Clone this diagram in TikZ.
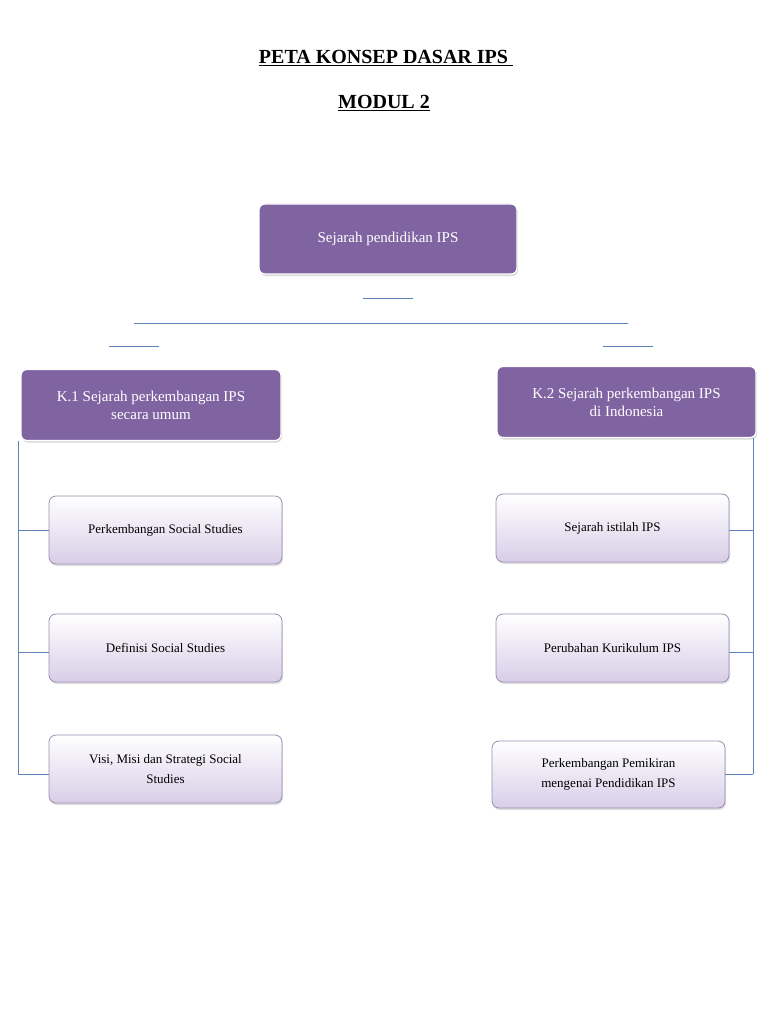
\documentclass[tikz,border=0pt]{standalone}
\usepackage{fontspec}
\setmainfont{Liberation Serif}
\usetikzlibrary{shadows}
\definecolor{pur}{HTML}{8064A2}
\definecolor{lav}{HTML}{D8CEE8}
\definecolor{bord}{HTML}{9A8DB0}
\definecolor{ln}{HTML}{5B84B8}
\begin{document}
\begin{tikzpicture}[x=1pt,y=-1pt,
  main/.style={draw=white,line width=1.2pt,fill=pur,rounded corners=6pt,text=white,align=center,font=\fontsize{15}{18}\selectfont,drop shadow={shadow xshift=1pt,shadow yshift=-2pt,fill=gray!60},inner sep=0pt},
  sub/.style={draw=bord,line width=0.8pt,top color=white,bottom color=lav,rounded corners=7pt,align=center,font=\fontsize{13}{20}\selectfont,drop shadow={shadow xshift=1pt,shadow yshift=-2pt,fill=gray!50},inner sep=0pt},
  con/.style={draw=ln,line width=0.7pt}]
\useasboundingbox (0,0) rectangle (768,1024);
\node[font=\bfseries\fontsize{20}{24}\selectfont] (t1) at (386,58) {\underline{PETA KONSEP DASAR IPS\ }};
\node[font=\bfseries\fontsize{20}{24}\selectfont] (t2) at (384,103) {\underline{MODUL 2}};
\node[main,minimum width=258pt,minimum height=70pt] (top) at (388,239) {Sejarah pendidikan IPS};
\node[main,minimum width=260pt,minimum height=71pt] (k1) at (151,405) {K.1 Sejarah perkembangan IPS\\secara umum};
\node[main,minimum width=259pt,minimum height=71pt] (k2) at (626.5,402) {K.2 Sejarah perkembangan IPS\\di Indonesia};
\node[sub,minimum width=233pt,minimum height=68pt] (a1) at (165.5,530) {Perkembangan Social Studies};
\node[sub,minimum width=233pt,minimum height=68pt] (a2) at (165.5,648) {Definisi Social Studies};
\node[sub,minimum width=233pt,minimum height=68pt] (a3) at (165.5,769) {Visi, Misi dan Strategi Social\\Studies};
\node[sub,minimum width=233pt,minimum height=68pt] (b1) at (612.5,528) {Sejarah istilah IPS};
\node[sub,minimum width=233pt,minimum height=68pt] (b2) at (612.5,648) {Perubahan Kurikulum IPS};
\node[sub,minimum width=233pt,minimum height=67pt] (b3) at (608.5,774.5) {Perkembangan Pemikiran\\mengenai Pendidikan IPS};
\coordinate (s1a) at (363,298); \coordinate (s1b) at (413,298);
\coordinate (la) at (134,323); \coordinate (lb) at (628,323);
\coordinate (s2a) at (109,346); \coordinate (s2b) at (159,346);
\coordinate (s3a) at (603,346); \coordinate (s3b) at (653,346);
\draw[con] (s1a) -- (s1b); \draw[con] (la) -- (lb);
\draw[con] (s2a) -- (s2b); \draw[con] (s3a) -- (s3b);
\coordinate (lt) at (18,441); \coordinate (lbot) at (18,774);
\draw[con] (lt) -- (lbot);
\draw[con] (18,530) -- (a1.west);
\draw[con] (18,652) -- (a2.west|-0,652);
\draw[con] (lbot) -- (a3.west|-0,774);
\coordinate (rt) at (753,438); \coordinate (rbot) at (753,774);
\draw[con] (rt) -- (rbot);
\draw[con] (753,530) -- (b1.east|-0,530);
\draw[con] (753,652) -- (b2.east|-0,652);
\draw[con] (rbot) -- (b3.east|-0,774);
\end{tikzpicture}
\end{document}
